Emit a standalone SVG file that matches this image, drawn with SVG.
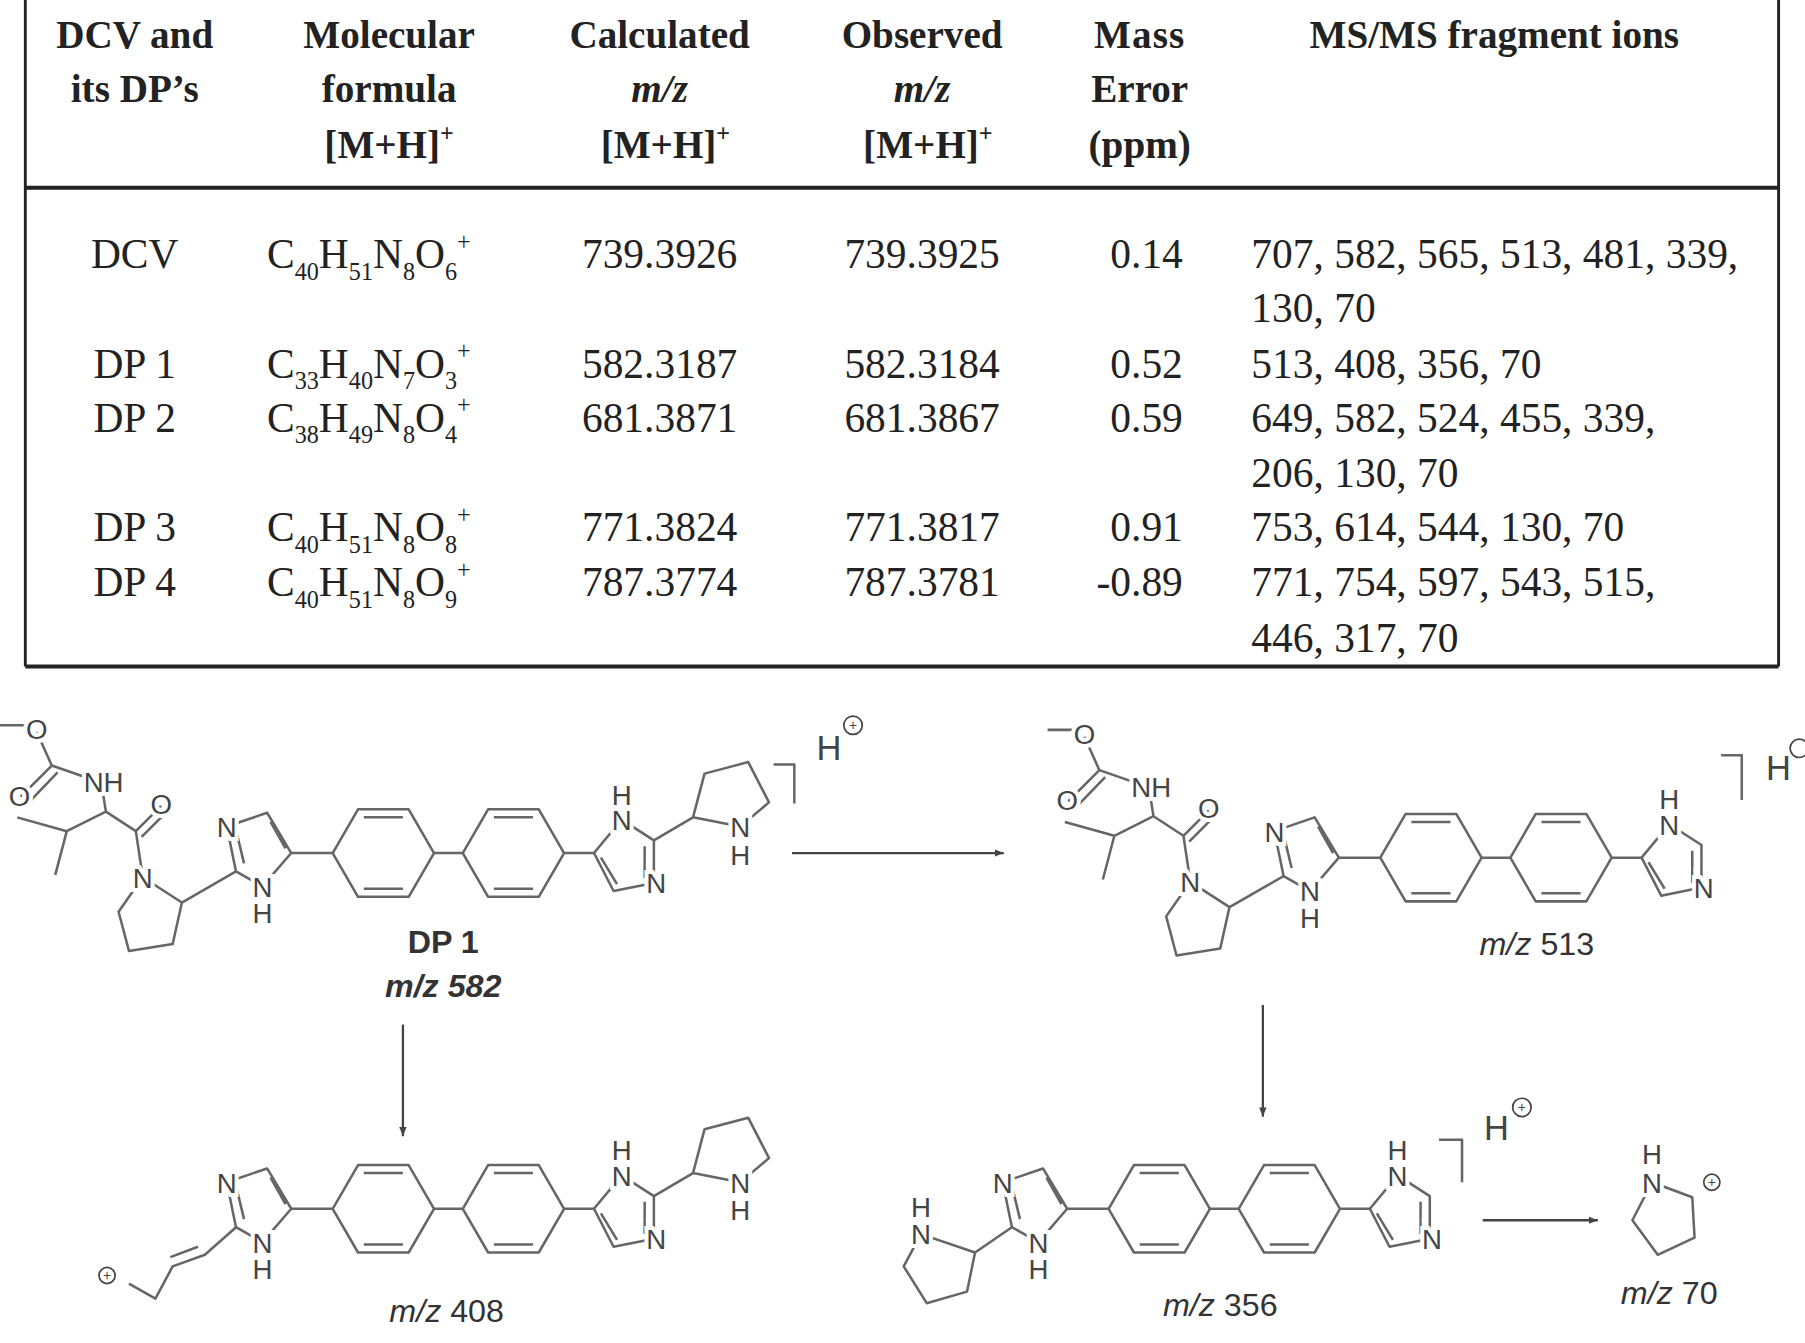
<svg xmlns="http://www.w3.org/2000/svg" xmlns:xlink="http://www.w3.org/1999/xlink" width="1805" height="1343" viewBox="0 0 1805 1343">
<style>
.h{font-family:"Liberation Serif",serif;font-weight:bold;font-size:34px;text-anchor:middle;fill:#222}
.d{font-family:"Liberation Serif",serif;font-size:36px;fill:#222}
.c{text-anchor:middle}
.s{font-size:21px}
.b{fill:none;stroke:#666;stroke-width:2.2;stroke-linejoin:round}
.a{font-family:"Liberation Sans",sans-serif;font-size:24px;fill:#444;text-anchor:middle;stroke:#fff;stroke-width:7;paint-order:stroke}
.hp{font-family:"Liberation Sans",sans-serif;font-size:30px;fill:#444;text-anchor:middle}
.l{font-family:"Liberation Sans",sans-serif;font-size:28px;fill:#333;text-anchor:middle}
.ar{stroke:#444;stroke-width:2;fill:none}
.pl{fill:none;stroke:#444;stroke-width:1.5}
.pt{font-family:"Liberation Sans",sans-serif;font-size:12px;fill:#444;text-anchor:middle}
</style>
<defs>
<marker id="m" viewBox="0 0 10 10" refX="10" refY="5" markerWidth="8" markerHeight="8" orient="auto" markerUnits="userSpaceOnUse"><path d="M0,1 L10,5 L0,9z" fill="#444"/></marker>
<g id="benz">
<path class="b" d="M-44,0 L-22,-38 L22,-38 L44,0 L22,38 L-22,38Z M-17,-31 L17,-31 M-17,31 L17,31"/>
</g>
<g id="core">
<use xlink:href="#benz" x="333" y="741"/>
<use xlink:href="#benz" x="446" y="741"/>
<path class="b" d="M377,741 L402,741 M490,741 L516,741 M253,741 L289,741"/>
<path class="b" d="M205,757 L197,718 L232,706 L253,741 L228,770 Z M212,750 L205,721 M235,714 L248,737"/>
<path class="b" d="M516,741 L540,712 L568,730 L568,767 L533,774 Z M560,735 L560,763 M522,745 L536,768"/>
<text class="a" x="197" y="727">N</text>
<text class="a" x="228" y="779">N</text>
<text class="a" x="228" y="802">H</text>
<text class="a" x="540" y="721">N</text>
<text class="a" x="540" y="699">H</text>
<text class="a" x="570" y="776">N</text>
</g>
<g id="left">
<path class="b" d="M124,762 L158,784 L150,820 L112,826 L103,792 Z M158,784 L205,757 M124,762 L118,722 L92,705 L88,680 L45,665 L32,636 M45,665 L18,692 M50,671 L24,698 M118,722 L140,700 M123,727 L145,705 M92,705 L58,722 L48,760 M58,722 L15,710 M0,630 L22,630"/>
<text class="a" x="124" y="771">N</text>
<text class="a" x="140" y="707">O</text>
<text class="a" x="90" y="688">NH</text>
<text class="a" x="17" y="700">O</text>
<text class="a" x="32" y="642">O</text>
</g>
<g id="pyr">
<path class="b" d="M568,730 L602,710 M602,710 L612,672 L650,662 L668,697 L643,718 Z"/>
<text class="a" x="643" y="727">N</text>
<text class="a" x="643" y="751">H</text>
</g>
</defs>
<g id="table">
<path d="M22,0 L22,579 M1545,0 L1545,579" stroke="#222" stroke-width="2.5" transform="scale(1.1512)"/>
<path d="M22,163 L1545,163 M22,579 L1545,579" stroke="#222" stroke-width="3.5" transform="scale(1.1512)"/>
<g transform="scale(1.1512)">
<text class="h" x="117" y="42">DCV and</text>
<text class="h" x="117" y="89">its  DP’s</text>
<text class="h" x="338" y="42">Molecular</text>
<text class="h" x="338" y="89">formula</text>
<text class="h" x="338" y="137">[M+H]<tspan class="s" dy="-14">+</tspan></text>
<text class="h" x="573" y="42">Calculated</text>
<text class="h" x="573" y="89" font-style="italic">m/z</text>
<text class="h" x="578" y="137">[M+H]<tspan class="s" dy="-14">+</tspan></text>
<text class="h" x="801" y="42">Observed</text>
<text class="h" x="801" y="89" font-style="italic">m/z</text>
<text class="h" x="806" y="137">[M+H]<tspan class="s" dy="-14">+</tspan></text>
<text class="h" x="990" y="42" letter-spacing="1">Mass</text>
<text class="h" x="990" y="89">Error</text>
<text class="h" x="990" y="137">(ppm)</text>
<text class="h" x="1298" y="42">MS/MS fragment ions</text>

<g class="d">
<text class="c" x="117" y="233">DCV</text>
<text class="c" x="117" y="328">DP 1</text>
<text class="c" x="117" y="375">DP 2</text>
<text class="c" x="117" y="470">DP 3</text>
<text class="c" x="117" y="518">DP 4</text>

<text x="232" y="233">C<tspan class="s" dy="10">40</tspan><tspan dy="-10">H</tspan><tspan class="s" dy="10">51</tspan><tspan dy="-10">N</tspan><tspan class="s" dy="10">8</tspan><tspan dy="-10">O</tspan><tspan class="s" dy="10">6</tspan><tspan class="s" dy="-26">+</tspan></text>
<text x="232" y="328">C<tspan class="s" dy="10">33</tspan><tspan dy="-10">H</tspan><tspan class="s" dy="10">40</tspan><tspan dy="-10">N</tspan><tspan class="s" dy="10">7</tspan><tspan dy="-10">O</tspan><tspan class="s" dy="10">3</tspan><tspan class="s" dy="-26">+</tspan></text>
<text x="232" y="375">C<tspan class="s" dy="10">38</tspan><tspan dy="-10">H</tspan><tspan class="s" dy="10">49</tspan><tspan dy="-10">N</tspan><tspan class="s" dy="10">8</tspan><tspan dy="-10">O</tspan><tspan class="s" dy="10">4</tspan><tspan class="s" dy="-26">+</tspan></text>
<text x="232" y="470">C<tspan class="s" dy="10">40</tspan><tspan dy="-10">H</tspan><tspan class="s" dy="10">51</tspan><tspan dy="-10">N</tspan><tspan class="s" dy="10">8</tspan><tspan dy="-10">O</tspan><tspan class="s" dy="10">8</tspan><tspan class="s" dy="-26">+</tspan></text>
<text x="232" y="518">C<tspan class="s" dy="10">40</tspan><tspan dy="-10">H</tspan><tspan class="s" dy="10">51</tspan><tspan dy="-10">N</tspan><tspan class="s" dy="10">8</tspan><tspan dy="-10">O</tspan><tspan class="s" dy="10">9</tspan><tspan class="s" dy="-26">+</tspan></text>

<text class="c" x="573" y="233">739.3926</text>
<text class="c" x="573" y="328">582.3187</text>
<text class="c" x="573" y="375">681.3871</text>
<text class="c" x="573" y="470">771.3824</text>
<text class="c" x="573" y="518">787.3774</text>
<text class="c" x="801" y="233">739.3925</text>
<text class="c" x="801" y="328">582.3184</text>
<text class="c" x="801" y="375">681.3867</text>
<text class="c" x="801" y="470">771.3817</text>
<text class="c" x="801" y="518">787.3781</text>
<text class="c" x="996" y="233">0.14</text>
<text class="c" x="996" y="328">0.52</text>
<text class="c" x="996" y="375">0.59</text>
<text class="c" x="996" y="470">0.91</text>
<text class="c" x="990" y="518">-0.89</text>
<text x="1087" y="233">707, 582, 565, 513, 481, 339,</text>
<text x="1087" y="280">130, 70</text>
<text x="1087" y="328">513, 408, 356, 70</text>
<text x="1087" y="375">649, 582, 524, 455, 339,</text>
<text x="1087" y="423">206, 130, 70</text>
<text x="1087" y="470">753, 614, 544, 130, 70</text>
<text x="1087" y="518">771, 754, 597, 543, 515,</text>
<text x="1087" y="566">446, 317, 70</text>
</g>
</g>
</g>
<g transform="scale(1.1512)">
<g id="dp1">
<use xlink:href="#core"/><use xlink:href="#left"/><use xlink:href="#pyr"/>
<path class="b" d="M672,664 L690,664 L690,698"/>
<text class="hp" x="720" y="660">H</text><circle class="pl" cx="741" cy="630" r="8"/><text class="pt" x="741" y="634">+</text>
<text class="l" x="385" y="828" font-weight="bold">DP 1</text>
<text class="l" x="385" y="866" font-weight="bold" font-style="italic">m/z 582</text>
</g>
<g id="f513">
<use xlink:href="#core" x="910" y="4"/><use xlink:href="#left" x="910" y="4"/>
<path class="b" d="M1495,656 L1513,656 L1513,695"/>
<text class="hp" x="1545" y="678">H</text><circle class="pl" cx="1563" cy="650" r="8"/>
<text class="l" x="1335" y="830"><tspan font-style="italic">m/z</tspan> 513</text>
</g>
<g id="f408">
<use xlink:href="#core" y="309"/><use xlink:href="#pyr" y="309"/>
<path class="b" d="M205,1066 L178,1090 L150,1100 L135,1128 L112,1115 M172,1083 L148,1092"/>
<circle class="pl" cx="93" cy="1108" r="7"/><text class="pt" x="93" y="1112">+</text>
<text class="l" x="388" y="1148"><tspan font-style="italic">m/z</tspan> 408</text>
</g>
<g id="f356">
<use xlink:href="#core" x="674" y="309"/>
<path class="b" d="M879,1066 L847,1088 M847,1088 L840,1122 L805,1132 L785,1100 L800,1072 Z"/>
<text class="a" x="800" y="1081">N</text><text class="a" x="800" y="1057">H</text>
<path class="b" d="M1250,990 L1270,990 L1270,1027"/>
<text class="hp" x="1300" y="990">H</text><circle class="pl" cx="1322" cy="962" r="8"/><text class="pt" x="1322" y="966">+</text>
<text class="l" x="1060" y="1143"><tspan font-style="italic">m/z</tspan> 356</text>
</g>
<g id="f70">
<path class="b" d="M1435,1027 L1470,1040 L1472,1075 L1440,1090 L1418,1060 Z"/>
<text class="a" x="1435" y="1036">N</text><text class="a" x="1435" y="1011">H</text>
<circle class="pl" cx="1487" cy="1027" r="7"/><text class="pt" x="1487" y="1031">+</text>
<text class="l" x="1450" y="1133"><tspan font-style="italic">m/z</tspan> 70</text>
</g>
<g id="connectors">
<path class="ar" marker-end="url(#m)" d="M688,741 L872,741"/>
<path class="ar" marker-end="url(#m)" d="M350,890 L350,987"/>
<path class="ar" marker-end="url(#m)" d="M1097,873 L1097,970"/>
<path class="ar" marker-end="url(#m)" d="M1288,1060 L1388,1060"/>
</g>
</g>
</svg>
